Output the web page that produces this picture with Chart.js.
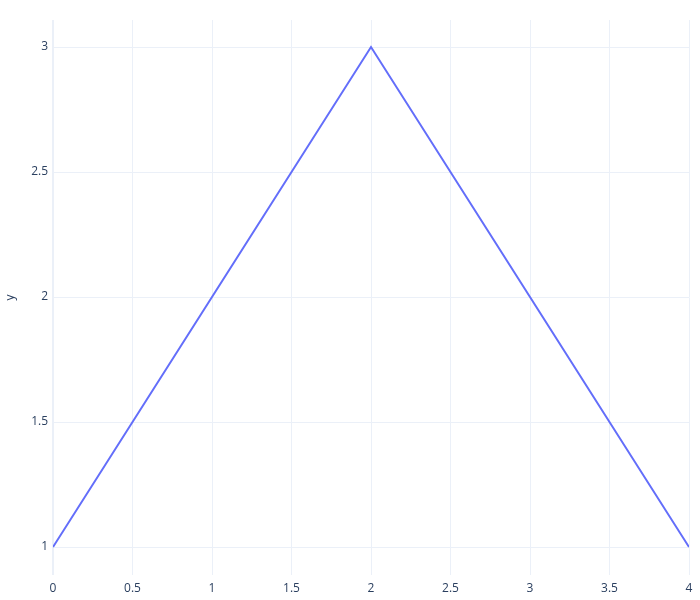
<!DOCTYPE html>
<html>
<head>
<meta charset="utf-8">
<script src="https://cdn.jsdelivr.net/npm/chart.js@4"></script>
<style>
  html, body { margin: 0; padding: 0; background: #fff; }
  #wrap { width: 700px; height: 600px; position: relative; }
</style>
</head>
<body>
<div id="wrap"><canvas id="chart"></canvas></div>
<script>
// data
const xValues = [0, 1, 2, 3, 4];
const yValues = [1, 2, 3, 2, 1];
const xTicks = [0, 0.5, 1, 1.5, 2, 2.5, 3, 3.5, 4];
const yTicks = [1, 1.5, 2, 2.5, 3];

const gridColor = "#ebf0f8";
const textColor = "#2a3f5f";

Chart.defaults.font.family = "'Open Sans', 'Noto Sans', sans-serif";
Chart.defaults.font.size = 12;
Chart.defaults.color = textColor;

const points = xValues.map((x, i) => ({ x: x, y: yValues[i] }));

new Chart(document.getElementById("chart"), {
  type: "line",
  data: {
    datasets: [{
      data: points,
      borderColor: "#636efa",
      borderWidth: 2,
      pointRadius: 0,
      tension: 0,
      fill: false,
    }],
  },
  options: {
    responsive: true,
    maintainAspectRatio: false,
    animation: false,
    layout: { padding: { top: 20, right: 11, left: 0, bottom: 0 } },
    plugins: { legend: { display: false }, tooltip: { enabled: false } },
    scales: {
      x: {
        type: "linear",
        min: 0,
        max: 4,
        border: { display: false },
        grid: {
          color: gridColor,
          drawTicks: false,
          lineWidth: (ctx) => (ctx.tick && ctx.tick.value === 0 ? 2 : 1),
        },
        ticks: { padding: 6, maxRotation: 0, callback: (v) => String(v) },
        afterBuildTicks: (axis) => { axis.ticks = xTicks.map((v) => ({ value: v })); },
        afterFit: (axis) => { axis.height = 25; axis.paddingRight = 0; axis.paddingLeft = 0; },
      },
      y: {
        type: "linear",
        min: 0.888,
        max: 3.108,
        border: { display: false },
        grid: { color: gridColor, drawTicks: false },
        ticks: { padding: 5, callback: (v) => String(v) },
        afterBuildTicks: (axis) => { axis.ticks = yTicks.map((v) => ({ value: v })); },
        afterFit: (axis) => { axis.width = 53; },
        title: { display: true, text: "y", padding: { top: 3, bottom: 0 } },
      },
    },
  },
});
</script>
</body>
</html>
